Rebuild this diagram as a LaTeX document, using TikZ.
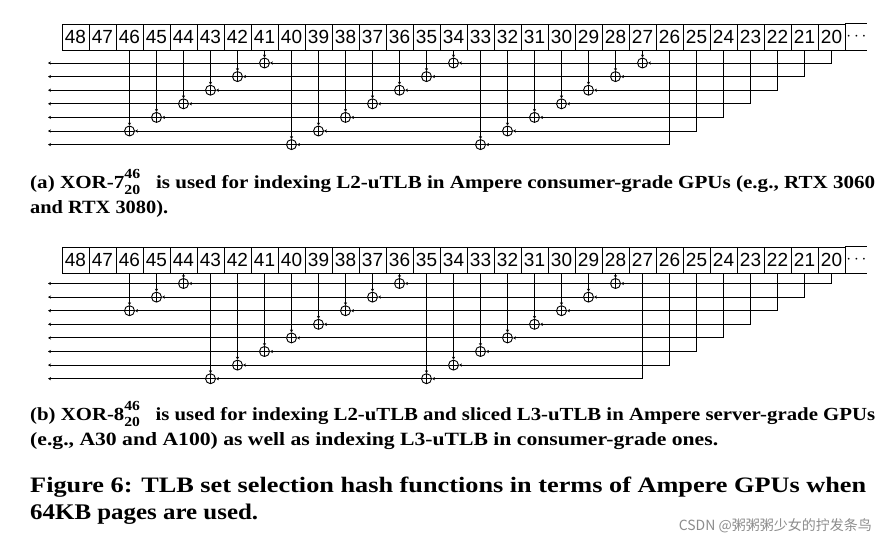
\documentclass[tikz,border=0pt]{standalone}
\usepackage{fontspec}
\usepackage{graphicx}
\setmainfont{Liberation Serif}
\newfontfamily\cellfont{Liberation Sans}
\newfontfamily\cjk{Noto Sans CJK SC}
\usetikzlibrary{arrows.meta,calc}
\newcommand\capfont{\fontsize{20}{24}\selectfont\bfseries}
\newcommand\xsc[2]{\smash{\rlap{\raisebox{0.5em}{\fontsize{15}{15}\selectfont #1}}\raisebox{-0.35em}{\fontsize{15}{15}\selectfont #2}}}
\tikzset{
  cell/.style={draw,line width=0.9pt,minimum width=27pt,minimum height=26pt,inner sep=0pt,font=\cellfont\fontsize{19}{19}\selectfont},
  xorc/.style={circle,draw,line width=0.9pt,minimum size=10pt,inner sep=0pt,
    path picture={\draw[line width=0.9pt] (path picture bounding box.north) -- (path picture bounding box.south)
      (path picture bounding box.west) -- (path picture bounding box.east);}},
  wire/.style={line width=0.9pt},
  arr/.style={line width=0.9pt,-{Stealth[length=3pt,width=3.2pt]}},
  captxt/.style={anchor=base west,inner sep=0pt}
}
\newcommand\drawpart[4]{% #1 prefix, #2 K, #3 box top, #4 first row y
  \foreach \b in {20,...,48}{
    \node[cell] (#1c\b) at ({62+(48-\b)*27+13.5},{#3+13}) {\b};
  }
  \coordinate (#1dt) at ([xshift=22pt]#1c20.north east);
  \coordinate (#1db) at ([xshift=22pt]#1c20.south east);
  \draw[wire] (#1c20.north east) -- (#1dt) (#1c20.south east) -- (#1db);
  \node[font=\cellfont\fontsize{19}{19}\selectfont,inner sep=0pt] (#1dots) at ($(#1c20.east)!0.5!([xshift=22pt]#1c20.east)$) {$\cdots$};
  \pgfmathtruncatemacro\lastrow{#2-1}
  \foreach \i in {0,...,\lastrow}{
    \pgfmathsetmacro\yy{#4+13.6*\i}
    \pgfmathtruncatemacro\sb{20+\i}
    \coordinate (#1r\i) at (#1c\sb.south |- 0,\yy);
    \draw[wire] (#1c\sb.south) -- (#1r\i);
    \xdef\prev{#1r\i}
    \foreach \j in {1,2,3}{
      \pgfmathtruncatemacro\bb{20+\i+#2*\j}
      \ifnum\bb<47
        \node[xorc] (#1x\i-\j) at (#1c\bb.south |- 0,\yy) {};
        \draw[arr] (\prev) -- (#1x\i-\j.east);
        \draw[arr] (#1c\bb.south) -- (#1x\i-\j.north);
        \xdef\prev{#1x\i-\j.west}
      \fi
    }
    \coordinate (#1e\i) at (48,\yy);
    \draw[arr] (\prev) -- (#1e\i);
  }
}
\begin{document}
\begin{tikzpicture}[x=1pt,y=-1pt]
\useasboundingbox (0,0) rectangle (889,544);
\drawpart{a}{7}{24}{63}
\drawpart{b}{8}{247}{283.5}
\node[captxt] (ca1) at (30,188) {\resizebox{845pt}{13pt}{\capfont (a) XOR-7\xsc{46}{20}\ \ \ is used for indexing L2-uTLB in Ampere consumer-grade GPUs (e.g., RTX 3060}};
\node[captxt] (ca2) at (30,213) {\resizebox{138pt}{13pt}{\capfont and RTX 3080).}};
\node[captxt] (cb1) at (30,420) {\resizebox{845pt}{13pt}{\capfont (b) XOR-8\xsc{46}{20}\ \ \ is used for indexing L2-uTLB and sliced L3-uTLB in Ampere server-grade GPUs}};
\node[captxt] (cb2) at (30,445) {\resizebox{688pt}{13pt}{\capfont (e.g., A30 and A100) as well as indexing L3-uTLB in consumer-grade ones.}};
\node[captxt] (cf1) at (30,492) {\resizebox{836pt}{15.5pt}{\capfont Figure 6: TLB set selection hash functions in terms of Ampere GPUs when}};
\node[captxt] (cf2) at (30,519) {\resizebox{228pt}{15.5pt}{\capfont 64KB pages are used.}};
\node[anchor=base east,inner sep=0pt,text=black!45,font=\cjk\fontsize{14}{14}\selectfont] (wm) at (872,530) {CSDN @粥粥粥少女的拧发条鸟};
\end{tikzpicture}
\end{document}
